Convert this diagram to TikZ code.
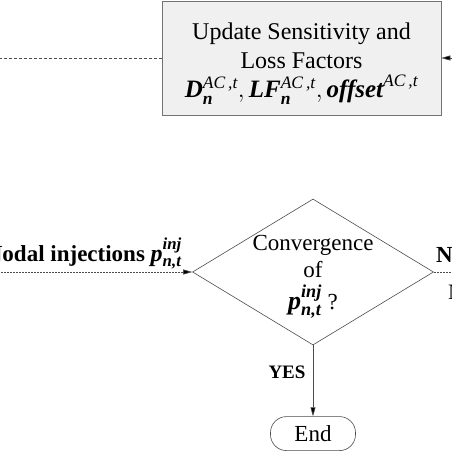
\documentclass[tikz,border=0pt]{standalone}
\usepackage{amsmath}
\usepackage{fontspec}
\setmainfont{Liberation Serif}
\usetikzlibrary{positioning,shapes.geometric,arrows.meta}
\newcommand{\bi}[1]{\text{\bfseries\itshape #1}}
\newcommand{\ti}[1]{\text{\itshape #1}}
\begin{document}
\begin{tikzpicture}[x=1pt, y=1pt, line width=0.6pt,
  box/.style = {draw=black!55, fill=black!6, minimum width=279pt, minimum height=114pt, align=center, font=\fontsize{24}{29}\selectfont},
  decision/.style = {draw=black!70, diamond, minimum width=241pt, minimum height=146pt, inner sep=0pt},
  term/.style = {draw=black!70, rounded corners=16pt, minimum width=85pt, minimum height=34pt, inner sep=0pt, font=\fontsize{23}{28}\selectfont},
  lbl/.style = {inner sep=0pt, font=\bfseries\fontsize{23}{27}\selectfont},
  arr/.style = {draw=black!70, -{Triangle[length=9pt,width=5pt,fill=black]}},
  dsh/.style = {draw=black!70, dash pattern=on 3pt off 2pt},
  dot/.style = {draw=black!70, dash pattern=on 2pt off 1pt}]
  \useasboundingbox (0,0) rectangle (452,452);

  \node[box] (upd) at (301.5,394) {\rule{0pt}{28pt}Update Sensitivity and\\Loss Factors\\{\fontsize{25}{29}\selectfont$\bi{D}^{\ti{AC\,,t}}_{\bi{n}}, \bi{LF}^{\ti{AC\,,t}}_{\bi{n}}, \bi{offset}^{\ti{AC\,,t}}$}};
  \node[decision] (conv) at (313,180) [label={[align=center, yshift=-5pt, font=\fontsize{23}{27}\selectfont]center:{Convergence\\of\\[5pt]{\fontsize{26}{30}\selectfont$\bi{p}^{\bi{inj}}_{\bi{n,t}}$} ?}}] {};
  \node[term] (end) [below=71pt of conv] {End};

  \coordinate (lout) at (-20,394);
  \coordinate (rin) at (475,394);
  \coordinate (lin) at (-20,180);
  \coordinate (rout) at (475,180);

  \node[lbl, anchor=south east] (nin) at ([xshift=-10pt, yshift=3pt]conv.west) {Nodal injections {\fontsize{24}{28}\selectfont$\bi{p}^{\bi{inj}}_{\bi{n,t}}$}};
  \node[lbl, anchor=south west] (no) at ([xshift=2pt, yshift=9pt]conv.east) {NO};
  \node[anchor=north west, inner sep=0pt, font=\fontsize{22}{26}\selectfont] (nout) at ([xshift=14pt, yshift=-13pt]conv.east) {N};
  \node[lbl, font=\bfseries\fontsize{19}{22}\selectfont] (yes) at (287,80) {YES};

  \draw[dsh] (upd) -- (lout);
  \draw[arr] (rin) -- (upd);
  \draw[arr, dot] (lin) -- (conv.west);
  \draw[dot] (conv.east) -- (rout);
  \draw[arr] (conv) -- (end);
\end{tikzpicture}
\end{document}
